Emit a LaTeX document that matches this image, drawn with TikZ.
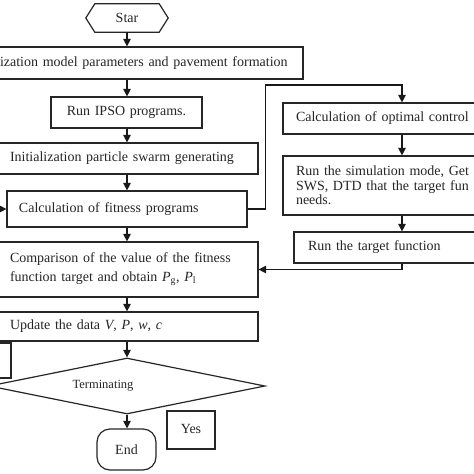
\documentclass[tikz,border=0pt]{standalone}
\usepackage{fontspec}
\setmainfont{Liberation Serif}
\usetikzlibrary{arrows.meta,shapes.geometric,calc}
\begin{document}
\begin{tikzpicture}[x=1pt,y=-1pt,
  every node/.style={font=\fontsize{14}{17}\selectfont, text=black!85},
  ln/.style={line width=1.2pt, draw=black!85},
  fbox/.style={draw=black!85, line width=1.2pt, inner ysep=0pt, inner xsep=12pt, align=left},
  arr/.style={line width=1.2pt, draw=black!90, -{Triangle[length=7.5pt,width=7.5pt]}}]
\useasboundingbox (0,0) rectangle (474,474);
\clip (0,0) rectangle (474,474);
\fill[white] (0,0) rectangle (474,474);

% start
\node[inner sep=0, minimum width=82pt, minimum height=28pt] (star) at (127,18) {Star};
\draw[ln] (star.west) -- ([xshift=9pt]star.north west) -- ([xshift=-9pt]star.north east) -- (star.east) -- ([xshift=-9pt]star.south east) -- ([xshift=9pt]star.south west) -- cycle;

% left column
\node[fbox, text width=291pt, minimum height=32pt] (b1) at (145.5,63) {ization model parameters and pavement formation};
\node[fbox, align=center, text width=127pt, minimum height=31pt] (b2) at (126.5,112.5) {Run IPSO programs.};
\node[fbox, text width=236pt, minimum height=31pt] (b3) at (128,158.5) {\makebox[236pt][s]{Initialization particle swarm generating}};
\node[fbox, text width=216pt, minimum height=36pt] (b4) at (127,209) {Calculation of fitness programs};
\node[fbox, text width=236pt, minimum height=55pt, font=\fontsize{14}{19}\selectfont] (b5) at (128,269.5) {\makebox[236pt][s]{Comparison of the value of the fitness}\\function target and obtain \textit{P}\textsubscript{g}, \textit{P}\textsubscript{l}};
\node[fbox, text width=236pt, minimum height=29pt] (b6) at (128,326.5) {Update the data \textit{V}, \textit{P}, \textit{w}, \textit{c}};
\node[draw, ln, inner sep=0, minimum width=41pt, minimum height=35pt] (nobox) at (-9.5,360.5) {};

% decision and end
\node[draw, ln, diamond, inner sep=0, minimum width=276pt, minimum height=56pt] (dec) at (127,386) {};
\node[inner sep=0, font=\fontsize{12.5}{14}\selectfont] (termtext) at (103,386) {Terminating};
\node[draw, ln, rounded corners=13pt, inner sep=0, minimum width=59pt, minimum height=41pt] (endn) at (126.5,449.5) {End};
\node[draw, ln, inner sep=0, minimum width=48pt, minimum height=38pt] (yes) at (191,430) {\raisebox{3pt}{Yes}};

% right column
\node[fbox, inner xsep=13pt, text width=191pt, minimum height=31pt] (r1) at (391.5,118.5) {Calculation of optimal control};
\node[fbox, inner xsep=13pt, text width=191pt, minimum height=59pt, font=\fontsize{14}{14.5}\selectfont] (r2) at (391.5,185.5) {\makebox[174pt][s]{Run the simulation mode, Get}\\\makebox[183pt][s]{SWS, DTD that the target fun}\\needs.};
\node[fbox, inner xsep=14pt, text width=178pt, minimum height=31pt] (r3) at (397,247.5) {Run the target function};

% connectors
\coordinate (ax) at (127,0);
\coordinate (rx) at (402,0);
\coordinate (looptop) at (402,85);
\coordinate (lin) at (-5,209);
\draw[arr] (star.south) -- (star.south |- b1.north);
\draw[arr] (ax |- b1.south) -- (ax |- b2.north);
\draw[arr] (ax |- b2.south) -- (ax |- b3.north);
\draw[arr] (ax |- b3.south) -- (ax |- b4.north);
\draw[arr] (ax |- b4.south) -- (ax |- b5.north);
\draw[arr] (ax |- b5.south) -- (ax |- b6.north);
\draw[arr] (ax |- b6.south) -- (dec.north);
\draw[arr] (dec.south) -- (ax |- endn.north);
\draw[arr] (lin) -- (b4.west);
\draw[arr] (b4.east) -- ++(18,0) |- (looptop) -- (rx |- r1.north);
\draw[arr] (rx |- r1.south) -- (rx |- r2.north);
\draw[arr] (rx |- r2.south) -- (rx |- r3.north);
\draw[arr] (rx |- r3.south) |- (b5.east);
\end{tikzpicture}
\end{document}
